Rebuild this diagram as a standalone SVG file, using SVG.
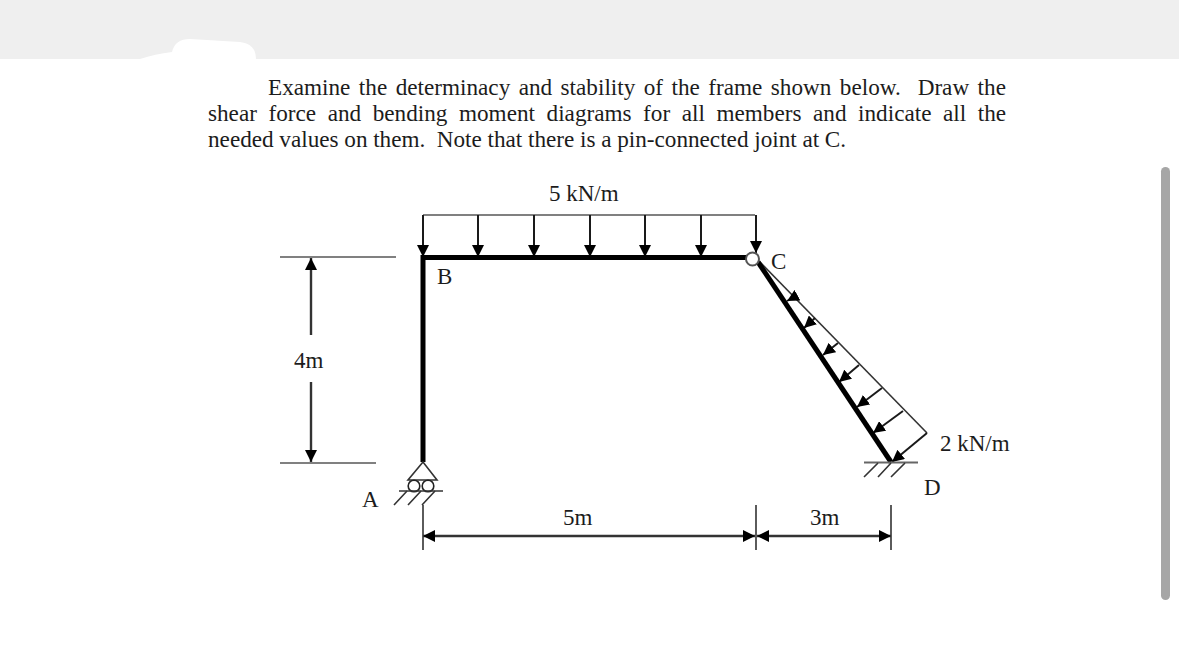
<svg xmlns="http://www.w3.org/2000/svg" width="1179" height="671" viewBox="0 0 1179 671">
<style>
text{font-family:"Liberation Serif","Times New Roman",serif;font-size:23px;fill:#1c1c1c;white-space:pre}
.p{font-size:23.2px}
.l{fill:none;stroke:#1a1a1a;stroke-width:2}
.t{fill:none;stroke:#333;stroke-width:1.6}
.m{fill:none;stroke:#000;stroke-width:5}
.d{fill:none;stroke:#333;stroke-width:2.400}
.g{fill:none;stroke:#808080;stroke-width:2}
</style>
<defs>
<marker id="ah" viewBox="0 0 12 12" refX="12" refY="6" markerWidth="12" markerHeight="12" markerUnits="userSpaceOnUse" orient="auto"><path d="M0 0L12 6L0 12Z" fill="#000"/></marker>
<marker id="dh" viewBox="0 0 12 12" refX="12" refY="6" markerWidth="12" markerHeight="12" markerUnits="userSpaceOnUse" orient="auto-start-reverse"><path d="M0 0L12 6L0 12Z" fill="#000"/></marker>
</defs>
<rect width="1179" height="671" fill="#fff"/>
<rect id="band" width="1179" height="59" fill="#efefef"/>
<path id="patch" d="M140 59Q155 54 172 52Q175 39 190 39L240 42Q256 44 256 59Z" fill="#fff"/>
<rect id="scrollbar" x="1161" y="167" width="9" height="433" rx="4.500" fill="#a6a6a6"/>
<g id="text-block">
<text class="p" x="268" y="95" word-spacing="2.650">Examine the determinacy and stability of the frame shown below.  Draw the</text>
<text class="p" x="208" y="121" word-spacing="5.770">shear force and bending moment diagrams for all members and indicate all the</text>
<text class="p" x="208" y="147" word-spacing="-0.100">needed values on them.  Note that there is a pin-connected joint at C.</text>
</g>
<g id="connectors">
<path class="g" d="M423 215H755"/>
<path class="l" d="M423 215V257" marker-end="url(#ah)"/>
<path class="l" d="M478 215V257" marker-end="url(#ah)"/>
<path class="l" d="M534 215V257" marker-end="url(#ah)"/>
<path class="l" d="M590 215V257" marker-end="url(#ah)"/>
<path class="l" d="M645 215V257" marker-end="url(#ah)"/>
<path class="l" d="M701 215V257" marker-end="url(#ah)"/>
<path class="l" d="M756 215V253" marker-end="url(#ah)"/>
<path class="t" d="M759 261L927 433"/>
<path class="l" d="M796 296L787 301" marker-end="url(#ah)"/>
<path class="l" d="M815 318L804 328" marker-end="url(#ah)"/>
<path class="l" d="M838 343L823 355" marker-end="url(#ah)"/>
<path class="l" d="M859 365L839 382" marker-end="url(#ah)"/>
<path class="l" d="M882 388L857 407" marker-end="url(#ah)"/>
<path class="l" d="M903 411L873 433" marker-end="url(#ah)"/>
<path class="l" d="M927 433L892 462" marker-end="url(#ah)"/>
<path class="g" d="M280 257H396"/>
<path class="g" d="M280 463H376"/>
<path class="d" d="M311 258V335" marker-start="url(#dh)"/>
<path class="d" d="M311 382V462" marker-end="url(#dh)"/>
<path class="d" d="M423 536H755" marker-start="url(#dh)" marker-end="url(#dh)"/>
<path class="d" d="M757 536H891" marker-start="url(#dh)" marker-end="url(#dh)"/>
<path class="t" d="M423 505V550"/>
<path class="t" d="M756 505V550"/>
<path class="t" d="M891 505V550"/>
</g>
<g id="frame">
<path class="m" d="M423 462V257.500H752"/>
<path class="m" d="M758 262L891 462"/>
</g>
<g id="node-C">
<circle cx="752.500" cy="259" r="6.500" fill="#fff" stroke="#555" stroke-width="2"/>
<text x="771" y="269">C</text>
</g>
<g id="node-B"><text x="437" y="284">B</text></g>
<g id="node-A">
<path class="t" d="M423 462L408 480H437Z"/>
<circle cx="414" cy="486" r="5.800" fill="#fff" stroke="#222" stroke-width="1.600"/>
<circle cx="428" cy="486" r="5.800" fill="#fff" stroke="#222" stroke-width="1.600"/>
<path class="t" d="M399 491H443"/>
<path class="t" d="M407 491L394 505M421 491L408 505M435 491L422 505"/>
<text x="362" y="507">A</text>
</g>
<g id="node-D">
<path d="M864 462.500H918" fill="none" stroke="#666" stroke-width="2"/>
<path class="t" d="M878 463L864 477M891 463L878 477M905 463L891 477"/>
<text x="924" y="495">D</text>
</g>
<g id="labels">
<text x="549" y="201">5 kN/m</text>
<text x="940" y="451">2 kN/m</text>
<text x="294" y="368">4m</text>
<text x="563" y="525">5m</text>
<text x="810" y="525">3m</text>
</g>
</svg>
